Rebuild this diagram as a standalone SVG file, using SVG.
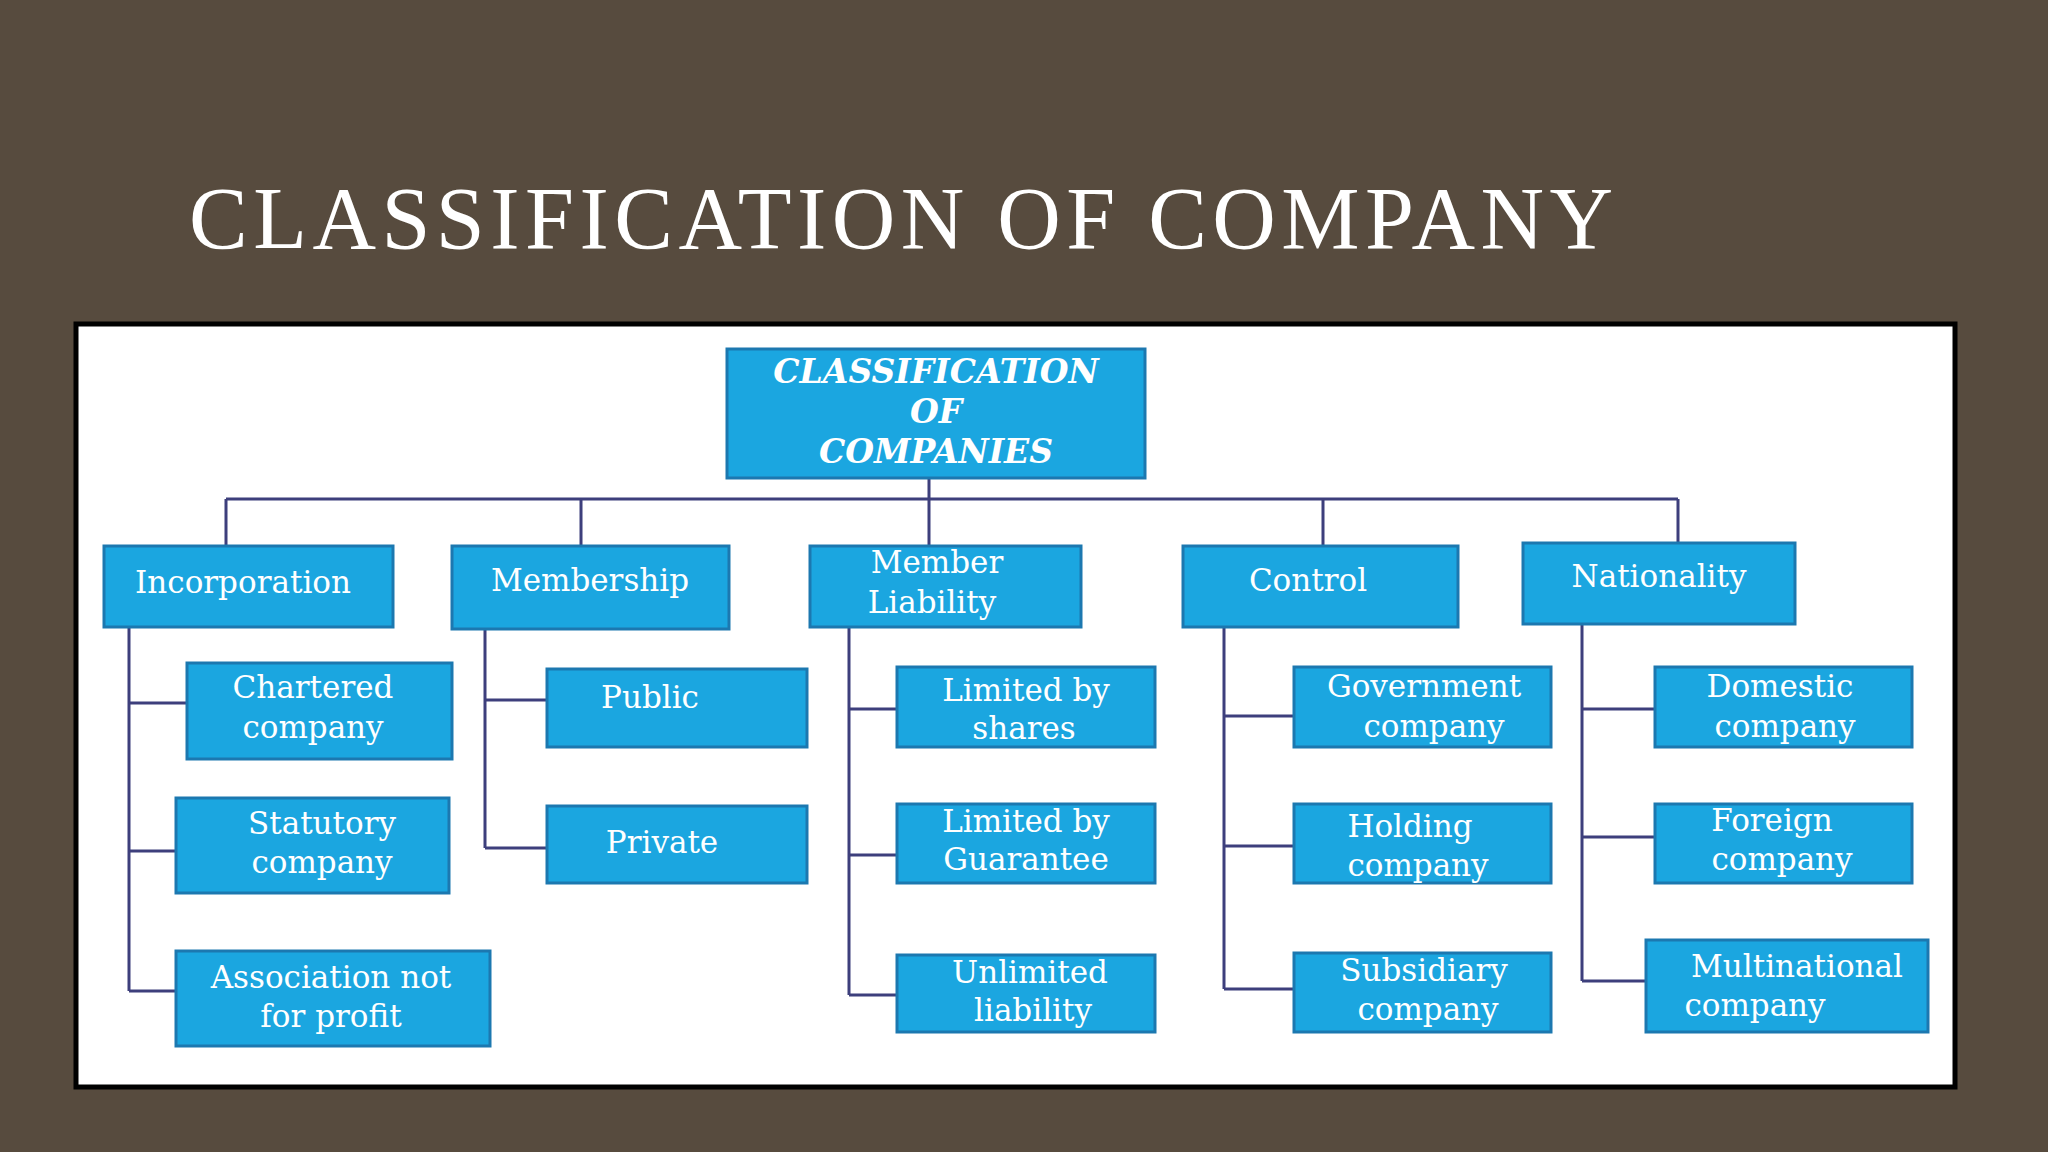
<svg xmlns="http://www.w3.org/2000/svg" width="2048" height="1152" viewBox="0 0 2048 1152">
<style>
.b{fill:#1ba6e0;stroke:#1c78b0;stroke-width:3}
.t{fill:#fff;font-family:"DejaVu Serif","Liberation Serif",serif;font-size:31px;text-anchor:middle}
.r{fill:#fff;font-family:"DejaVu Serif","Liberation Serif",serif;font-size:33px;font-weight:bold;font-style:italic;text-anchor:middle}
.c{fill:none;stroke:#3d3f7c;stroke-width:3}
</style>
<rect width="2048" height="1152" fill="#574b3e"/>
<text x="189" y="248" font-family="Liberation Serif,serif" font-size="88" fill="#fff" textLength="1424">CLASSIFICATION OF COMPANY</text>
<rect x="76" y="324" width="1879" height="763" fill="#fff" stroke="#000" stroke-width="5"/>
<g id="connectors" class="c">
<path d="M929 478V499M226 499H1678M226 499V546M581 499V546M929 499V546M1323 499V546M1678 499V543"/>
<path d="M129 627V991M129 703H187M129 851H176M129 991H176"/>
<path d="M485 629V848M485 700H547M485 848H547"/>
<path d="M849 627V995M849 709H897M849 855H897M849 995H897"/>
<path d="M1224 627V989M1224 716H1294M1224 846H1294M1224 989H1294"/>
<path d="M1582 624V981M1582 709H1655M1582 837H1655M1582 981H1646"/>
</g>
<g id="root"><rect class="b" x="727" y="349" width="418" height="129"/><text class="r" x="936" y="383">CLASSIFICATION</text><text class="r" x="936" y="423">OF</text><text class="r" x="936" y="463">COMPANIES</text></g>
<g id="incorporation"><rect class="b" x="104" y="546" width="289" height="81"/><text class="t" x="243" y="593">Incorporation</text></g>
<g id="membership"><rect class="b" x="452" y="546" width="277" height="83"/><text class="t" x="590" y="591">Membership</text></g>
<g id="memberliability"><rect class="b" x="810" y="546" width="271" height="81"/><text class="t" x="937" y="573">Member</text><text class="t" x="932" y="613">Liability</text></g>
<g id="control"><rect class="b" x="1183" y="546" width="275" height="81"/><text class="t" x="1308" y="591">Control</text></g>
<g id="nationality"><rect class="b" x="1523" y="543" width="272" height="81"/><text class="t" x="1659" y="587">Nationality</text></g>
<g id="chartered"><rect class="b" x="187" y="663" width="265" height="96"/><text class="t" x="313" y="698">Chartered</text><text class="t" x="313" y="738">company</text></g>
<g id="statutory"><rect class="b" x="176" y="798" width="273" height="95"/><text class="t" x="322" y="834">Statutory</text><text class="t" x="322" y="873">company</text></g>
<g id="association"><rect class="b" x="176" y="951" width="314" height="95"/><text class="t" x="331" y="988">Association not</text><text class="t" x="331" y="1027">for profit</text></g>
<g id="public"><rect class="b" x="547" y="669" width="260" height="78"/><text class="t" x="650" y="708">Public</text></g>
<g id="private"><rect class="b" x="547" y="806" width="260" height="77"/><text class="t" x="662" y="853">Private</text></g>
<g id="shares"><rect class="b" x="897" y="667" width="258" height="80"/><text class="t" x="1026" y="701">Limited by</text><text class="t" x="1024" y="739">shares</text></g>
<g id="guarantee"><rect class="b" x="897" y="804" width="258" height="79"/><text class="t" x="1026" y="832">Limited by</text><text class="t" x="1026" y="870">Guarantee</text></g>
<g id="unlimited"><rect class="b" x="897" y="955" width="258" height="77"/><text class="t" x="1030" y="983">Unlimited</text><text class="t" x="1033" y="1021">liability</text></g>
<g id="government"><rect class="b" x="1294" y="667" width="257" height="80"/><text class="t" x="1424" y="697">Government</text><text class="t" x="1434" y="737">company</text></g>
<g id="holding"><rect class="b" x="1294" y="804" width="257" height="79"/><text class="t" x="1410" y="837">Holding</text><text class="t" x="1418" y="876">company</text></g>
<g id="subsidiary"><rect class="b" x="1294" y="953" width="257" height="79"/><text class="t" x="1424" y="981">Subsidiary</text><text class="t" x="1428" y="1020">company</text></g>
<g id="domestic"><rect class="b" x="1655" y="667" width="257" height="80"/><text class="t" x="1780" y="697">Domestic</text><text class="t" x="1785" y="737">company</text></g>
<g id="foreign"><rect class="b" x="1655" y="804" width="257" height="79"/><text class="t" x="1772" y="831">Foreign</text><text class="t" x="1782" y="870">company</text></g>
<g id="multinational"><rect class="b" x="1646" y="940" width="282" height="92"/><text class="t" x="1797" y="977">Multinational</text><text class="t" x="1755" y="1016">company</text></g>
</svg>
